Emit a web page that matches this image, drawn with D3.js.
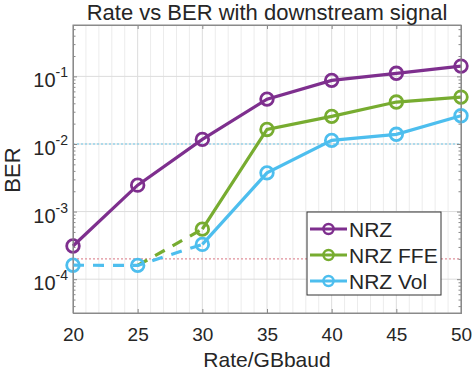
<!DOCTYPE html>
<html>
<head>
<meta charset="UTF-8">
<title>Rate vs BER</title>
<script src="https://cdn.jsdelivr.net/npm/d3@7"></script>
<style>
  body { margin: 0; background: #fff; }
  text { font-family: "Liberation Sans", Arial, sans-serif; fill: #262626; }
</style>
</head>
<body>
<svg id="chart" width="474" height="373"></svg>
<script>
// data
const rates = [20, 25, 30, 35, 40, 45, 50];
const nrz    = [3.1e-4, 2.46e-3, 0.0117, 0.0461, 0.0873, 0.111, 0.142];
const nrzFfe = [null, 1.6e-4, 5.5e-4, 0.0164, 0.0256, 0.0417, 0.0494];
const nrzVol = [1.61e-4, 1.6e-4, 3.27e-4, 3.74e-3, 0.0113, 0.0139, 0.0261];
// index from which the curve turns solid
const solidFrom = [0, 2, 2];
const names  = ['NRZ', 'NRZ FFE', 'NRZ Vol'];
const colors = ['#7E2F8E', '#77AC30', '#4DBEEE'];
const xTicks = [20, 25, 30, 35, 40, 45, 50];
const yTicks = [1e-4, 1e-3, 1e-2, 1e-1];
const refLines = [{ v: 1e-2, c: '#6cc7ea' }, { v: 2e-4, c: '#e0909a' }];

const svg = d3.select('#chart');
const m = { l: 73, r: 461, t: 25, b: 313 };

const x = d3.scaleLinear().domain([20, 50]).range([m.l, m.r]);
const y = d3.scaleLog().domain([Math.pow(10, -4.5), Math.pow(10, -0.24)]).range([m.b, m.t]);

// grid
const grid = svg.append('g');
d3.range(20, 51, 1).forEach(v => {
  grid.append('line')
    .attr('x1', x(v)).attr('x2', x(v)).attr('y1', m.t).attr('y2', m.b)
    .attr('stroke', v % 5 === 0 ? '#dcdcdc' : '#ececec').attr('stroke-width', 1);
});
yTicks.forEach(v => {
  grid.append('line')
    .attr('x1', m.l).attr('x2', m.r).attr('y1', y(v)).attr('y2', y(v))
    .attr('stroke', '#dcdcdc');
});
refLines.forEach(r => {
  grid.append('line')
    .attr('x1', m.l).attr('x2', m.r).attr('y1', y(r.v)).attr('y2', y(r.v))
    .attr('stroke', r.c).attr('stroke-width', 1.2).attr('stroke-dasharray', '2,2');
});

// axes
const xAxis = d3.axisBottom(x).tickValues(xTicks).tickSize(-4).tickPadding(15);
svg.append('g').attr('transform', `translate(0,${m.b})`).call(xAxis)
  .call(g => g.selectAll('text').style('font-size', '19px').attr('fill', '#262626'));
const minorY = [];
for (let e = -5; e < 0; e++) for (let k = 2; k < 10; k++) {
  const v = k * Math.pow(10, e);
  if (v >= y.domain()[0] && v <= y.domain()[1]) minorY.push(v);
}
const yAxis = d3.axisLeft(y).tickValues(yTicks).tickSize(-4).tickFormat('');
svg.append('g').attr('transform', `translate(${m.l},0)`).call(yAxis);
svg.append('g').attr('transform', `translate(${m.l},0)`)
  .call(d3.axisLeft(y).tickValues(minorY).tickSize(-2.5).tickFormat(''));
svg.append('g').attr('transform', `translate(${m.r},0)`)
  .call(d3.axisRight(y).tickValues(yTicks).tickSize(-4).tickFormat(''));
svg.append('g').attr('transform', `translate(${m.r},0)`)
  .call(d3.axisRight(y).tickValues(minorY).tickSize(-2.5).tickFormat(''));
svg.append('g').attr('transform', `translate(0,${m.t})`)
  .call(d3.axisTop(x).tickValues(xTicks).tickSize(-4).tickFormat(''));
svg.selectAll('.domain, .tick line').attr('stroke', '#8a8a8a');

// y tick labels with superscript
yTicks.forEach(v => {
  const t = svg.append('text').attr('x', 68).attr('y', y(v) + 11)
    .attr('text-anchor', 'end').style('font-size', '20px');
  t.append('tspan').text('10');
  t.append('tspan').attr('dy', -10).style('font-size', '14px').text(Math.round(Math.log10(v)));
});

// series
const series = [nrz, nrzFfe, nrzVol];
const line = d3.line().x(d => x(d[0])).y(d => y(d[1]));
series.forEach((vals, si) => {
  const pts = rates.map((r, i) => [r, vals[i]]).filter(d => d[1] != null);
  const s = solidFrom[si];
  const offset = rates.length - pts.length;
  const dashed = pts.filter((d, i) => i + offset <= s);
  const solid = pts.filter((d, i) => i + offset >= s);
  const g = svg.append('g');
  if (dashed.length > 1) {
    g.append('path').attr('d', line(dashed)).attr('fill', 'none')
      .attr('stroke', colors[si]).attr('stroke-width', 3.2).attr('stroke-dasharray', '11,9');
  }
  g.append('path').attr('d', line(solid)).attr('fill', 'none')
    .attr('stroke', colors[si]).attr('stroke-width', 3.2);
  const shown = si === 1 ? pts.filter(d => d[0] >= 30) : pts;
  g.selectAll('circle').data(shown).join('circle')
    .attr('cx', d => x(d[0])).attr('cy', d => y(d[1])).attr('r', 6.3)
    .attr('fill', 'none').attr('stroke', colors[si]).attr('stroke-width', 2.8);
});

// frame
svg.append('rect').attr('x', m.l).attr('y', m.t).attr('width', m.r - m.l).attr('height', m.b - m.t)
  .attr('fill', 'none').attr('stroke', '#8a8a8a');

// legend
const lg = svg.append('g');
lg.append('rect').attr('x', 307).attr('y', 212).attr('width', 134).attr('height', 83)
  .attr('fill', '#fff').attr('stroke', '#333').attr('stroke-width', 1);
names.forEach((n, i) => {
  const cy = 229 + i * 26;
  lg.append('line').attr('x1', 310).attr('x2', 347).attr('y1', cy).attr('y2', cy)
    .attr('stroke', colors[i]).attr('stroke-width', 3.2);
  lg.append('circle').attr('cx', 328.5).attr('cy', cy).attr('r', 5)
    .attr('fill', 'none').attr('stroke', colors[i]).attr('stroke-width', 2.5);
  lg.append('text').attr('x', 349).attr('y', cy + 7.5).style('font-size', '21px').text(n);
});

// labels
svg.append('text').attr('x', 267).attr('y', 20).attr('text-anchor', 'middle')
  .style('font-size', '22px').text('Rate vs BER with downstream signal');
svg.append('text').attr('x', 267).attr('y', 367).attr('text-anchor', 'middle')
  .style('font-size', '21px').text('Rate/GBbaud');
svg.append('text').attr('transform', 'translate(20,170) rotate(-90)').attr('text-anchor', 'middle')
  .style('font-size', '22px').text('BER');
</script>
</body>
</html>
